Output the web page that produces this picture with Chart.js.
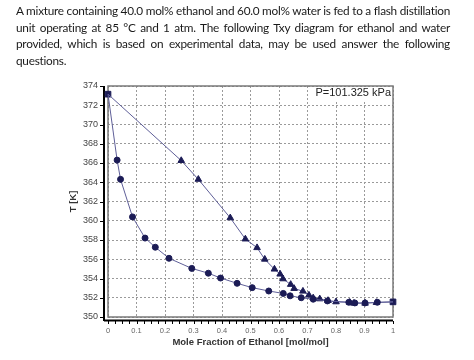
<!DOCTYPE html>
<html>
<head>
<meta charset="utf-8">
<script src="https://cdn.jsdelivr.net/npm/chart.js@4.4.0/dist/chart.umd.min.js"></script>
<style>
  body { margin: 0; background: #fff; }
  #wrap { position: relative; width: 474px; height: 360px; }
  #c { position: absolute; left: 0; top: 0; }
  #q { position: absolute; left: 16px; top: 3px; width: 434px; font-family: Lato, sans-serif; font-size: 11.8px; letter-spacing: -0.25px; color: #1a1a1a; }
  #q .ln { display: block; width: max-content; white-space: nowrap; height: 16.5px; line-height: 16.5px; }
</style>
</head>
<body>
<div id="wrap">
  <canvas id="c" width="474" height="360"></canvas>
  <div id="q">
    <span class="ln">A mixture containing 40.0 mol% ethanol and 60.0 mol% water is fed to a flash distillation</span>
    <span class="ln">unit operating at 85 °C and 1 atm. The following Txy diagram for ethanol and water</span>
    <span class="ln">provided, which is based on experimental data, may be used answer the following</span>
    <span class="ln" data-last="1">questions.</span>
  </div>
</div>
<script>
const xLiquid = [0, 0.032, 0.044, 0.086, 0.130, 0.166, 0.214, 0.294, 0.352, 0.395, 0.453, 0.506,
                 0.564, 0.615, 0.639, 0.678, 0.720, 0.770, 0.845, 0.866, 0.902, 0.945, 1.0];
const tLiquid = [373.15, 366.3, 364.3, 360.4, 358.2, 357.25, 356.1, 355.05, 354.55, 354.05, 353.5, 353.05,
                 352.7, 352.45, 352.2, 352.0, 351.85, 351.67, 351.53, 351.46, 351.46, 351.53, 351.57];
const xVapor = [0, 0.257, 0.317, 0.429, 0.482, 0.523, 0.550, 0.584, 0.604, 0.614, 0.641, 0.653,
                0.684, 0.705, 0.720, 0.743, 0.772, 0.800, 0.848, 0.863, 0.902, 0.942, 1.0];
const tVapor = [373.15, 366.25, 364.3, 360.3, 358.1, 357.2, 356.0, 354.97, 354.45, 353.96, 353.38, 352.96,
                352.68, 352.27, 351.98, 351.88, 351.71, 351.57, 351.53, 351.43, 351.43, 351.5, 351.57];
const xPure = [0, 1];
const tPure = [373.15, 351.57];
const pressureLabel = 'P=101.325 kPa';
const xTitle = 'Mole Fraction of Ethanol [mol/mol]';
const yTitle = 'T [K]';

// justifica cada linha do texto na largura do bloco
document.querySelectorAll('#q .ln').forEach(el => {
    if (el.dataset.last) return;
    const w = el.getBoundingClientRect().width;
    const spaces = (el.textContent.match(/ /g) || []).length;
    el.style.wordSpacing = ((434 - w) / spaces) + 'px';
});

function pts(xs, ys) {
    return xs.map((x, i) => ({ x: x, y: ys[i] }));
}

const navy = '#1b1b55';
const lineColor = '#5f5f98';

// eixos deslocados, moldura e legenda de pressao
const frame = {
    id: 'frame',
    beforeDatasetsDraw(chart) {
        const { ctx, chartArea: a, scales } = chart;
        ctx.save();
        ctx.strokeStyle = '#7a7a7a';
        ctx.lineWidth = 1.5;
        ctx.strokeRect(a.left, a.top, a.right - a.left, a.bottom - a.top);
        // eixo y
        ctx.strokeStyle = '#000';
        ctx.lineWidth = 2;
        ctx.beginPath();
        ctx.moveTo(104, a.top);
        ctx.lineTo(104, a.bottom + 4);
        ctx.stroke();
        ctx.lineWidth = 1;
        for (let v = 350; v <= 374; v += 2) {
            const y = Math.round(scales.y.getPixelForValue(v)) + 0.5;
            ctx.beginPath();
            ctx.moveTo(100, y);
            ctx.lineTo(104, y);
            ctx.stroke();
        }
        // eixo x
        ctx.lineWidth = 2;
        ctx.beginPath();
        ctx.moveTo(104, 320.5);
        ctx.lineTo(a.right, 320.5);
        ctx.stroke();
        ctx.lineWidth = 1;
        for (let i = 0; i <= 40; i++) {
            const x = Math.round(scales.x.getPixelForValue(i * 0.025)) + 0.5;
            ctx.beginPath();
            ctx.moveTo(x, 321);
            ctx.lineTo(x, 324);
            ctx.stroke();
        }
        ctx.restore();
    },
    afterDraw(chart) {
        const { ctx, chartArea: a } = chart;
        ctx.save();
        ctx.font = '11px "Liberation Sans", Arial, sans-serif';
        const w = ctx.measureText(pressureLabel).width;
        ctx.fillStyle = '#fff';
        ctx.fillRect(a.right - w - 4, a.top + 1, w + 3, 13);
        ctx.fillStyle = '#222';
        ctx.textAlign = 'right';
        ctx.textBaseline = 'middle';
        ctx.fillText(pressureLabel, a.right - 2, a.top + 7);
        ctx.restore();
    }
};

const lastIdx = xLiquid.length - 1;
const fontFam = '"Liberation Sans", Arial, sans-serif';

new Chart(document.getElementById('c'), {
    type: 'scatter',
    data: {
        datasets: [
            {
                label: 'x',
                data: pts(xLiquid, tLiquid),
                showLine: true,
                borderColor: lineColor,
                borderWidth: 1,
                backgroundColor: navy,
                pointBorderColor: navy,
                pointStyle: 'circle',
                pointRadius: ctx => (ctx.dataIndex === 0 || ctx.dataIndex === lastIdx) ? 0 : 3,
                clip: false
            },
            {
                label: 'y',
                data: pts(xVapor, tVapor),
                showLine: true,
                borderColor: lineColor,
                borderWidth: 1,
                backgroundColor: navy,
                pointBorderColor: navy,
                pointStyle: 'triangle',
                pointRadius: ctx => (ctx.dataIndex === 0 || ctx.dataIndex === xVapor.length - 1) ? 0 : 3.8,
                clip: false
            },
            {
                label: 'pure',
                data: pts(xPure, tPure),
                showLine: false,
                backgroundColor: navy,
                borderColor: navy,
                pointStyle: 'rect',
                pointRadius: 4,
                clip: false
            }
        ]
    },
    options: {
        responsive: false,
        animation: false,
        layout: { padding: { top: 86, right: 81, left: 0, bottom: 0 } },
        plugins: {
            legend: { display: false },
            tooltip: { enabled: false }
        },
        scales: {
            x: {
                type: 'linear',
                min: 0,
                max: 1,
                afterFit: s => { s.height = 43; },
                border: { display: false, dash: [2, 2] },
                grid: { color: '#9a9a9a', lineWidth: 1, drawTicks: false },
                ticks: {
                    stepSize: 0.1,
                    padding: 9,
                    color: '#666',
                    font: { family: fontFam, size: 7.5 },
                    maxRotation: 0,
                    callback: v => (Math.round(v * 10) / 10).toString()
                },
                title: {
                    display: true,
                    text: xTitle,
                    color: '#333',
                    font: { family: fontFam, size: 9.5, weight: 'bold' },
                    padding: { top: 12, bottom: 12 }
                }
            },
            y: {
                type: 'linear',
                min: 350,
                max: 374,
                afterFit: s => { s.width = 108; },
                border: { display: false, dash: [2, 2] },
                grid: { color: '#9a9a9a', lineWidth: 1, drawTicks: false },
                ticks: {
                    stepSize: 2,
                    padding: 10,
                    color: '#444',
                    font: { family: fontFam, size: 9 }
                },
                title: {
                    display: true,
                    text: yTitle,
                    color: '#333',
                    font: { family: fontFam, size: 9.5, weight: 'bold' },
                    padding: { top: 68, bottom: 0 }
                }
            }
        }
    },
    plugins: [frame]
});
</script>
</body>
</html>
